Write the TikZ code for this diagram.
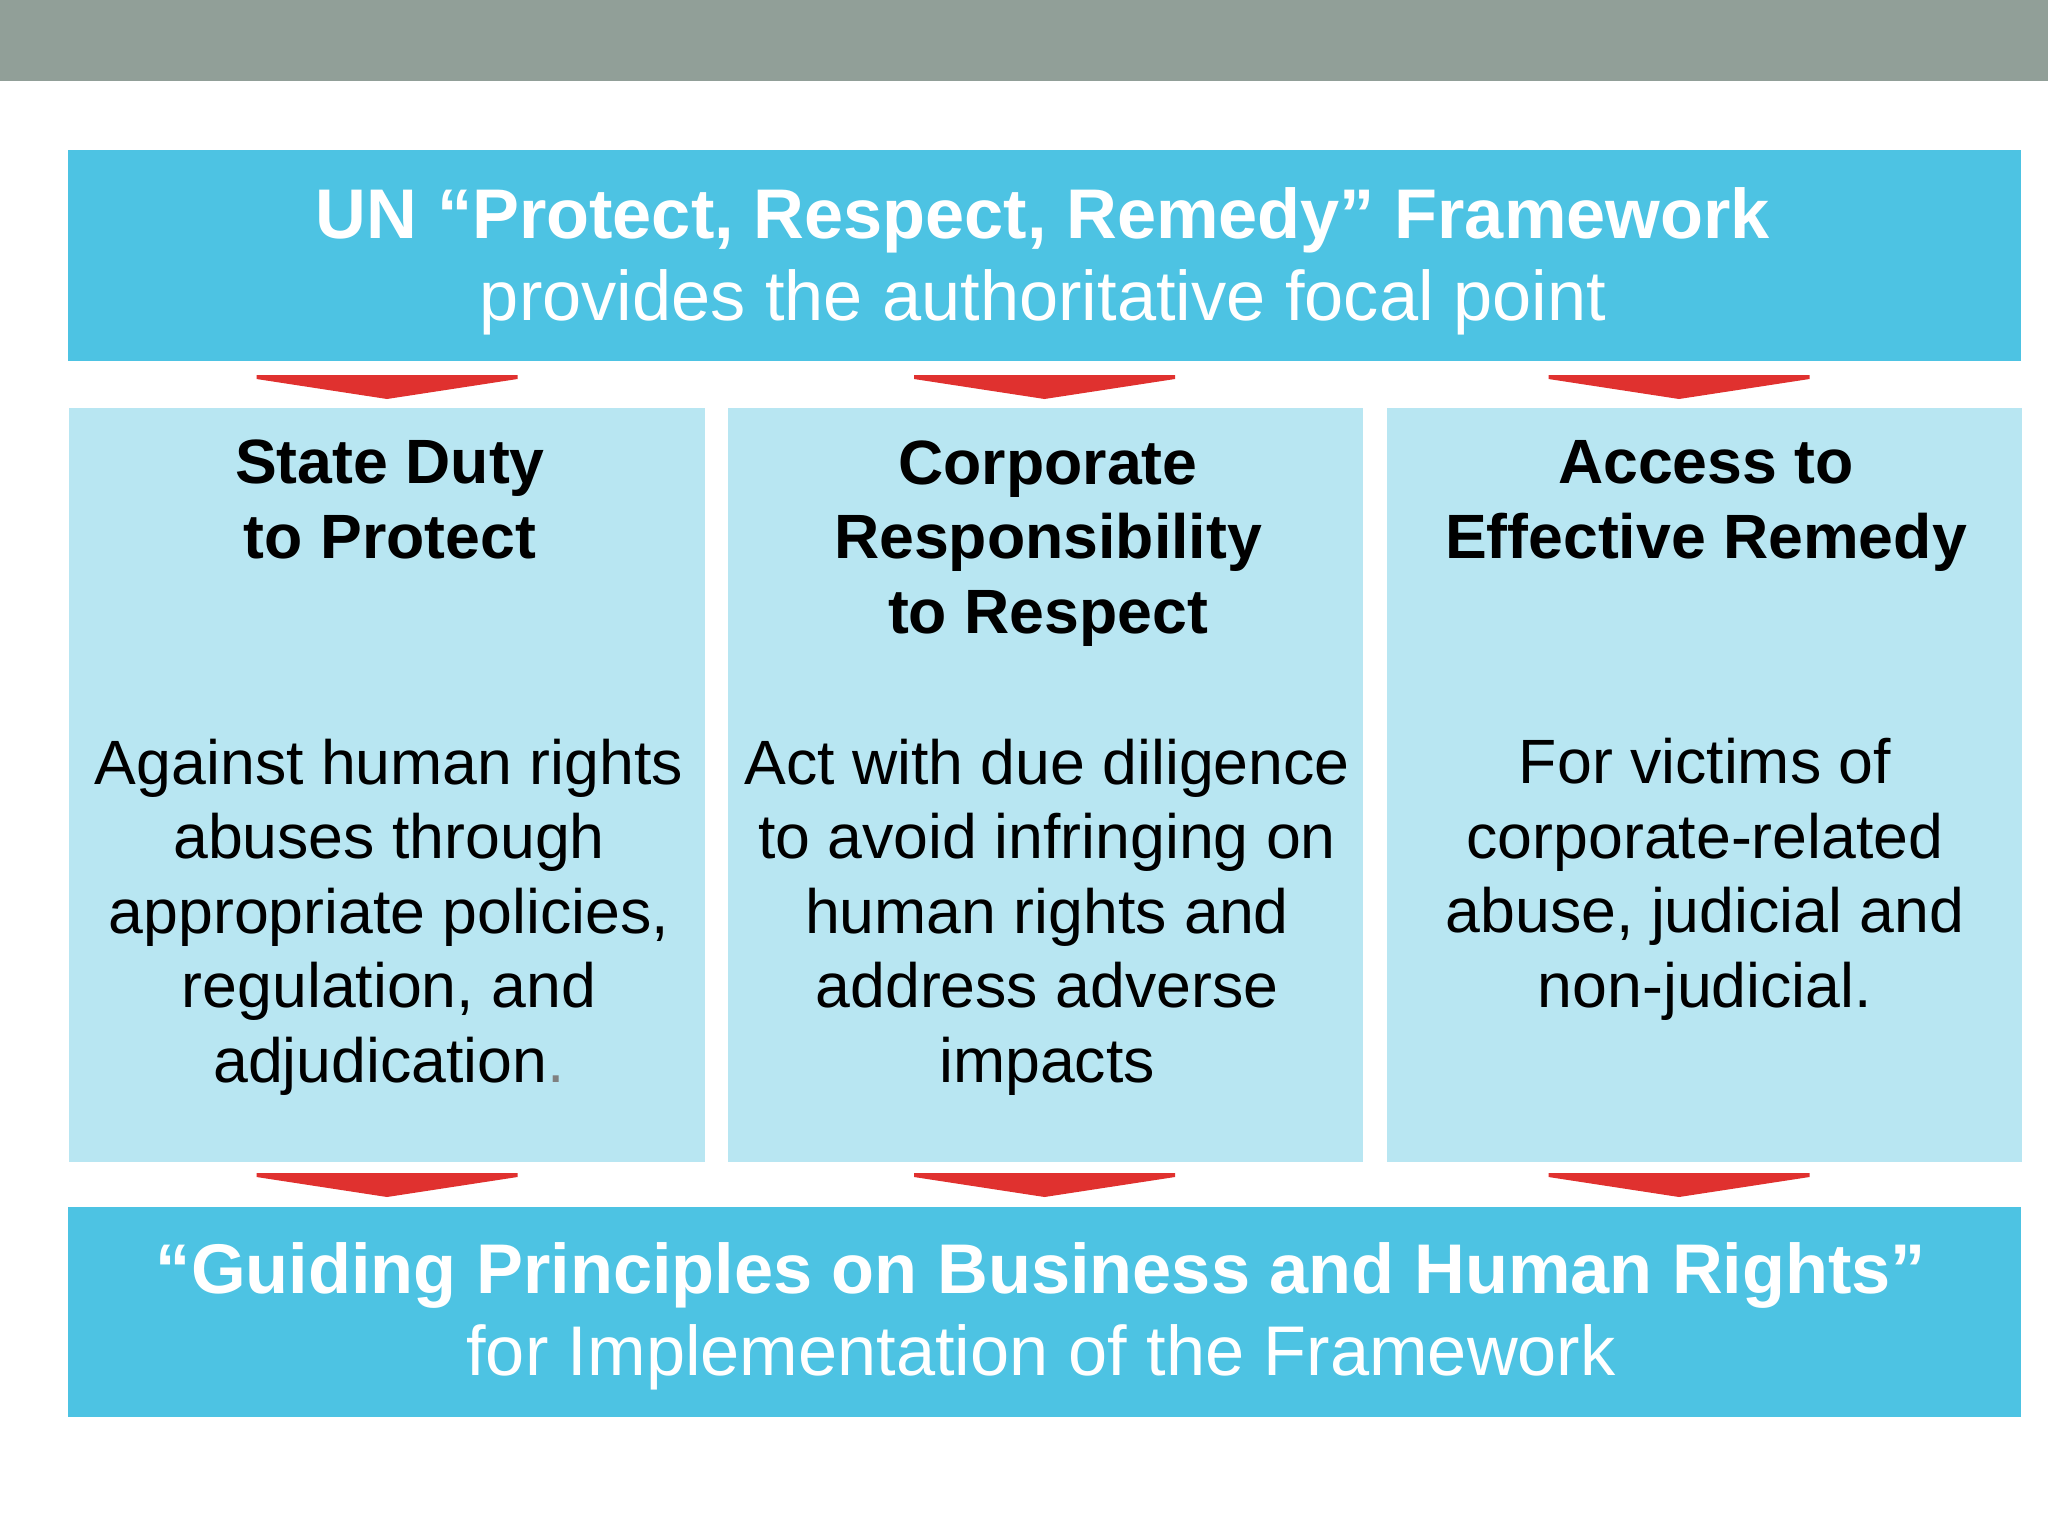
\documentclass[tikz,border=0pt]{standalone}
\usepackage{fontspec}
\setmainfont{Liberation Sans}
\usepackage{xcolor}
\usepackage{tikz}
\usetikzlibrary{positioning}
\definecolor{bargray}{HTML}{919F98}
\definecolor{frameblue}{HTML}{4DC3E3}
\definecolor{pillarblue}{HTML}{B8E6F2}
\definecolor{arrowred}{HTML}{E0312F}
\tikzset{
    banner/.style={rectangle, fill=frameblue, inner sep=0pt, minimum width=19.51cm, minimum height=2.11cm},
    pillar/.style={rectangle, fill=pillarblue, inner sep=0pt, minimum width=6.35cm, minimum height=7.54cm},
    bannertext/.style={align=center, inner sep=0pt, text=white, font=\fontsize{20}{23.1}\selectfont},
    pillarhead/.style={align=center, inner sep=0pt, text=black, font=\fontsize{17.8}{21.17}\selectfont\bfseries},
    pillarbody/.style={align=center, inner sep=0pt, text=black, font=\fontsize{17.8}{21.17}\selectfont},
    chevron/.style={fill=arrowred}
}

\begin{document}
\begin{tikzpicture}[x=0.01cm, y=-0.01cm]
    \useasboundingbox (0,0) rectangle (2048,1536);

    % Title bar
    \fill[bargray] (0,0) rectangle (2048,81);

    % Framework and principles
    \node[banner] (framework) at (1044.5,255.5) {};
    \node[banner, minimum height=2.10cm] (principles) at (1044.5,1312) {};

    % Pillars
    \node[pillar] (state) at (387,785) {};
    \node[pillar, right=0.22cm of state] (corporate) {};
    \node[pillar, right=0.22cm of corporate] (remedy) {};

    % Arrows
    \foreach \cx in {387,1044.5,1679} {
        \fill[chevron] (\cx-130.5,375) -- (\cx+130.5,375) -- (\cx+130.5,379) -- (\cx,399) -- (\cx-130.5,379) -- cycle;
        \fill[chevron] (\cx-130.5,1173) -- (\cx+130.5,1173) -- (\cx+130.5,1177) -- (\cx,1197) -- (\cx-130.5,1177) -- cycle;
    }

    % Texts (base = last line)
    \node[bannertext, anchor=base] (frameworktext) at (1043,320)
        {\textbf{UN “Protect, Respect, Remedy” Framework}\\provides the authoritative focal point};
    \node[bannertext, anchor=base] (principlestext) at (1041,1375)
        {\textbf{“Guiding Principles on Business and Human Rights”}\\for Implementation of the Framework};

    \node[pillarhead, anchor=base] (statehead) at (390,558) {State Duty\\to Protect};
    \node[pillarhead, anchor=base] (corporatehead) at (1048,633) {Corporate\\Responsibility\\to Respect};
    \node[pillarhead, anchor=base] (remedyhead) at (1706,558) {Access to\\Effective Remedy};

    \node[pillarbody, anchor=base] (statebody) at (389,1082)
        {Against human rights\\abuses through\\appropriate policies,\\regulation, and\\adjudication{\color{gray}.}};
    \node[pillarbody, anchor=base] (corporatebody) at (1047,1082)
        {Act with due diligence\\to avoid infringing on\\human rights and\\address adverse\\impacts};
    \node[pillarbody, anchor=base] (remedybody) at (1705,1007)
        {For victims of\\corporate-related\\abuse, judicial and\\non-judicial.};
\end{tikzpicture}
\end{document}
